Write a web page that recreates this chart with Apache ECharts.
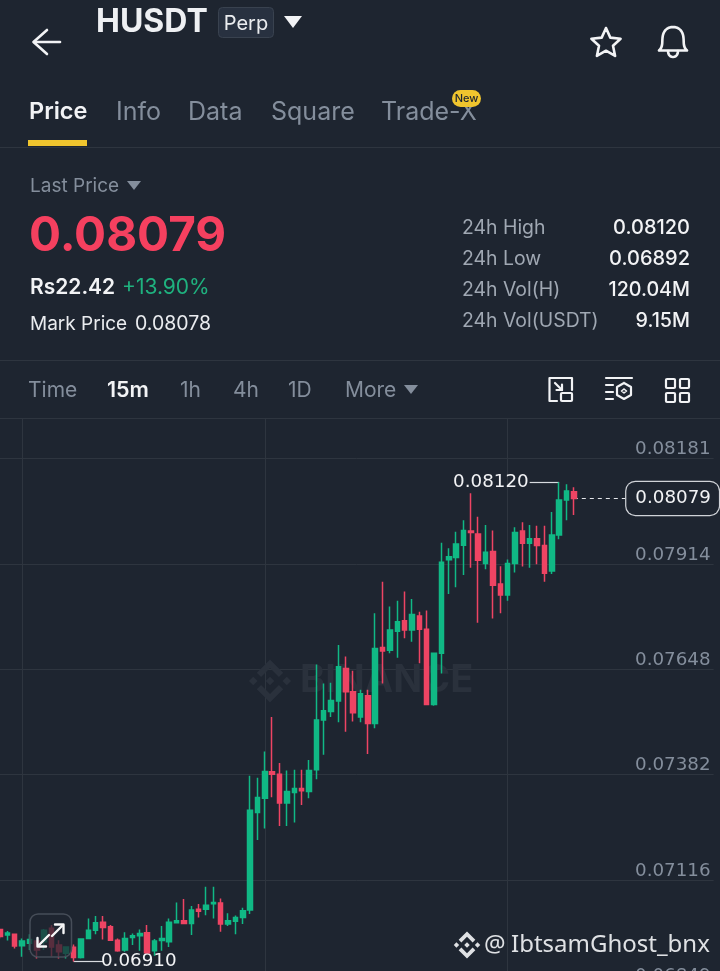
<!DOCTYPE html>
<html><head><meta charset="utf-8">
<style>html,body{margin:0;padding:0;background:#1e2530;overflow:hidden;height:971px}#c{width:720px;height:1010px}</style>
<script src="https://cdn.jsdelivr.net/npm/echarts@6/dist/echarts.min.js"></script>
</head><body><div id="c"></div>
<script>
const opens=[.06991,.06977,.06979,.06950,.06956,.06962,.06960,.06994,.06952,.06931,
.06946,.06920,.06968,.06989,.07009,.06998,.06964,.06939,.06971,.06975,
.06983,.06937,.06963,.06960,.07008,.07013,.07006,.07042,.07042,.07056,
.07058,.07005,.07012,.07021,.07040,.07286,.07322,.07389,.07383,.07310,
.07337,.07347,.07339,.07394,.07520,.07541,.07568,.07650,.07591,.07527,
.07581,.07511,.07703,.07696,.07744,.07770,.07747,.07782,.07749,.07559,
.07688,.07924,.07930,.07961,.07997,.07989,.07915,.07945,.07863,.07835,
.07915,.07997,.07966,.07977,.07960,.07896,.07987,.08075,.08096];
const closes=[.06973,.06982,.06949,.06962,.06966,.06939,.06989,.06947,.06935,.06947,
.06920,.06967,.06989,.07008,.06996,.06964,.06937,.06968,.06975,.06981,
.06932,.06962,.06968,.07009,.07013,.07006,.07040,.07037,.07052,.07059,
.07005,.07013,.07021,.07038,.07292,.07324,.07390,.07383,.07310,.07339,
.07347,.07341,.07392,.07520,.07543,.07569,.07654,.07591,.07538,.07586,
.07511,.07700,.07694,.07747,.07768,.07747,.07786,.07749,.07559,.07688,
.07918,.07932,.07964,.07998,.07993,.07923,.07943,.07860,.07835,.07915,
.07993,.07966,.07977,.07960,.07890,.07987,.08075,.08098,.08079];
const lows=[.06968,.06963,.06943,.06922,.06939,.06918,.06939,.06922,.06918,.06918,
.06910,.06918,.06968,.06979,.06966,.06962,.06935,.06935,.06952,.06937,
.06931,.06925,.06937,.06947,.07008,.07006,.06977,.07021,.07027,.07019,
.06985,.07000,.06979,.07005,.07030,.07217,.07246,.07325,.07252,.07252,
.07261,.07305,.07322,.07370,.07432,.07527,.07514,.07490,.07516,.07514,
.07434,.07499,.07612,.07688,.07677,.07726,.07717,.07663,.07558,.07556,
.07637,.07838,.07855,.07886,.07904,.07765,.07900,.07776,.07789,.07821,
.07892,.07907,.07904,.07913,.07869,.07888,.07976,.08024,.08037];
const highs=[.06993,.06987,.06981,.06968,.06979,.06964,.06992,.07002,.06964,.06947,
.06953,.06967,.07019,.07025,.07025,.07002,.06968,.06984,.06981,.06991,
.07002,.06967,.07000,.07019,.07059,.07068,.07050,.07055,.07099,.07099,
.07069,.07032,.07026,.07046,.07379,.07374,.07440,.07527,.07411,.07392,
.07394,.07394,.07419,.07660,.07612,.07614,.07709,.07680,.07644,.07596,
.07596,.07789,.07869,.07806,.07821,.07844,.07825,.07793,.07796,.07688,
.07967,.07953,.07995,.08024,.08092,.08033,.08012,.07998,.07908,.07925,
.08006,.08019,.08012,.08010,.08010,.08045,.08120,.08115,.08107];
const priceTicks=[0.08181,0.07914,0.07648,0.07382,0.07116,0.06849];
const timeGridSlots=[3,36,69];
const slotCount=98;
const categories=Array.from({length:slotCount},(_,i)=>'c'+i);
const lastPrice=0.08079, highPrice=0.08120, lowPrice=0.06910;

const FONT='Inter', AXFONT='DejaVu Sans';
const GRAY='#848e9c', WHITE='#eaecef', BG='#1e2530', GREEN='#10b985', RED='#ee4463', YEL='#f0c52e', LINE='#2e353f';
const T=(text,x,y,size,fill,weight,align,z)=>({type:'text',z:z||50,silent:true,style:{text,x,y,fontSize:size,fill,fontFamily:FONT,fontWeight:weight||400,textAlign:align||'left',textVerticalAlign:'middle'}});
const hl=(y)=>({type:'rect',z:5,silent:true,shape:{x:0,y:y,width:720,height:1},style:{fill:LINE}});
const tri=(x1,x2,y1,y2,fill)=>({type:'polygon',z:50,silent:true,shape:{points:[[x1,y1],[x2,y1],[(x1+x2)/2,y2]]},style:{fill}});
function outline(d){
  const toks=d.match(/[MLHVCZ]|-?[\d.]+/g), lines=[]; let cur=null,i=0,cmd='',x=0,y=0;
  const num=()=>parseFloat(toks[i++]);
  while(i<toks.length){
    if(/[MLHVCZ]/.test(toks[i])) cmd=toks[i++];
    if(cmd==='M'){x=num();y=num();cur=[[x,y]];lines.push(cur);cmd='L';}
    else if(cmd==='L'){x=num();y=num();cur.push([x,y]);}
    else if(cmd==='H'){x=num();cur.push([x,y]);}
    else if(cmd==='V'){y=num();cur.push([x,y]);}
    else if(cmd==='C'){const a=num(),b=num(),c=num(),e=num(),f=num(),g=num();
      for(let k=1;k<=10;k++){const t=k/10,u=1-t;
        cur.push([u*u*u*x+3*u*u*t*a+3*u*t*t*c+t*t*t*f,u*u*u*y+3*u*u*t*b+3*u*t*t*e+t*t*t*g]);}
      x=f;y=g;}
    else if(cmd==='Z'){cur.push(cur[0].slice());x=cur[0][0];y=cur[0][1];cmd='';}
  }
  return lines;
}
const stroke=(d,w,col,z)=>outline(d).map(pts=>({type:'polyline',z:z||50,silent:true,shape:{points:pts},style:{fill:'none',stroke:col||'#f2f3f5',lineWidth:w||2.4,lineCap:'round',lineJoin:'round'}}));
const box=(x,y,w,h,r,col,lw,z)=>({type:'rect',z:z||50,silent:true,shape:{x,y,width:w,height:h,r},style:{fill:'none',stroke:col||'#f2f3f5',lineWidth:lw||2.2}});
function logo(cx,cy,s,fill,z){
  const p=(pts)=>({type:'polygon',z,silent:true,shape:{points:pts.map(q=>[cx+q[0]*s,cy+q[1]*s])},style:{fill}});
  const d=(x,y,r)=>p([[x,y-r],[x+r,y],[x,y+r],[x-r,y]]);
  return [d(0,0,3.2),d(-12.4,0,3.2),d(12.4,0,3.2),
    p([[0,-16],[9.8,-6.2],[6.6,-3],[0,-9.6],[-6.6,-3],[-9.8,-6.2]]),
    p([[0,16],[9.8,6.2],[6.6,3],[0,9.6],[-6.6,3],[-9.8,6.2]])];
}
const graphics=[
  hl(147),hl(360),hl(418),
  ...stroke('M60 42H34M47 30L33.5 42L47 54',2.6),
  T('HUSDT',96,22,32,'#eef0f3',700),
  {type:'rect',z:49,silent:true,shape:{x:218.5,y:7.5,width:55,height:30,r:4},style:{fill:'#283140',stroke:'#39424f',lineWidth:1}},
  T('Perp',246,24,20,WHITE,400,'center'),
  tri(284,302,16,28,'#f2f3f5'),
  ...stroke('M606 28L610.3 37.6L620.6 38.7L613 45.7L615.1 55.9L606 50.7L596.9 55.9L599 45.7L591.4 38.7L601.7 37.6Z',2.6),
  ...stroke('M659 50.5C663 47 662 43 662.5 38C663 31 667 27 673 27C679 27 683 31 683.5 38C684 43 683 47 687 50.5ZM668 51C668 59 678 59 678 51',2.6),
  T('Price',29,112,23.5,'#f2f3f5',600),
  T('Info',116,112,25,GRAY),T('Data',188,112,25,GRAY),T('Square',271,112,25,GRAY),T('Trade-X',381,112,25,GRAY),
  {type:'rect',z:51,silent:true,shape:{x:452,y:90,width:29,height:17,r:8.5},style:{fill:YEL}},
  T('New',466.5,98.5,11,'#1e2530',500,'center',52),
  {type:'rect',z:50,silent:true,shape:{x:28,y:140,width:59,height:6},style:{fill:YEL}},
  T('Last Price',30,186,19,GRAY),
  tri(127,141,181,190,GRAY),
  T('0.08079',29,236.5,47.5,'#f5405f',700),
  T('Rs22.42',30,288,21,'#f2f3f5',600),
  T('+13.90%',122,288,21,'#1fb27f',400),
  T('Mark Price',30,324,19,WHITE),T('0.08078',135,324,19.5,WHITE),
  T('24h High',462,228,19.4,'#a0a8b3'),T('24h Low',462,259,19.4,'#a0a8b3'),T('24h Vol(H)',462,290,19.4,'#a0a8b3'),T('24h Vol(USDT)',462,321,19.4,'#a0a8b3'),
  T('0.08120',690,228,20,'#f2f3f5',500,'right'),T('0.06892',690,259,20,'#f2f3f5',500,'right'),T('120.04M',690,290,19.7,'#f2f3f5',500,'right'),T('9.15M',690,321,19.7,'#f2f3f5',500,'right'),
  T('Time',28,391,21,GRAY),T('15m',107,391,21.5,'#f2f3f5',600),T('1h',180,391,21,GRAY),T('4h',233,391,21,GRAY),T('1D',288,391,21,GRAY),T('More',345,391,21,GRAY),
  tri(404,418,385,394,GRAY),
  ...stroke('M572 390V378H549.5V401H557M555 383L562 390M562 384.5V390H556.5',2.2),
  box(561,393,11,8,1,null,2.2),
  ...stroke('M606 378H632M606 385H613M606 392H613M606 399H613',2.2),
  ...stroke('M624 383L631 387V395L624 399L617 395V387Z',2.2),
  ...stroke('M624 389L626.5 391L624 393L621.5 391Z',1.6),
  box(666,379,9,9,1,null,2.2),box(680,379,9,9,1,null,2.2),box(666,393,9,9,1,null,2.2),box(680,393,9,9,1,null,2.2),
  ...logo(270,681,1.35,'#2a313c',1),
  {type:'text',z:1,silent:true,style:{text:'BINANCE',x:300,y:681,fontSize:38,fontWeight:700,fontFamily:FONT,fill:'#2a313c',textVerticalAlign:'middle'}},
  {type:'rect',z:60,silent:true,shape:{x:30,y:914,width:41.5,height:43,r:8},style:{fill:'rgba(30,37,48,0.72)',stroke:'#464d58',lineWidth:1.5}},
  ...stroke('M52 936L62 926M55 924.5H63.5V933M49 935L39 945M37.5 938V946.5H46',2.4,'#f5f6f7',61),
  ...logo(467,945,0.85,'#dfe1e4',62),
  {type:'text',z:62,silent:true,style:{text:'@',x:484,y:945,fontSize:24,fontFamily:'Noto Sans',fill:'#dfe1e4',textVerticalAlign:'middle'}},
  {type:'text',z:62,silent:true,style:{text:'IbtsamGhost_bnx',x:511,y:945,fontSize:24,fontFamily:'Noto Sans',fill:'#dfe1e4',textVerticalAlign:'middle'}}
];
const annot=(a,b,style,label)=>[{coord:a,lineStyle:style,label},{coord:b,lineStyle:style,label}];
const chart=echarts.init(document.getElementById('c'));
chart.setOption({
  backgroundColor:BG,animation:false,
  grid:{left:-2.8,top:418,width:716.4,height:582,containLabel:false},
  xAxis:{type:'category',data:categories,boundaryGap:false,
    axisLine:{show:false},axisLabel:{show:false},
    axisTick:{show:false,interval:0},
    splitLine:{show:true,interval:(i)=>timeGridSlots.includes(i),lineStyle:{color:LINE,width:1}}},
  yAxis:{type:'value',position:'right',min:0.06813,max:0.08282,scale:true,
    axisLine:{show:false},
    axisTick:{show:false,customValues:priceTicks},
    splitLine:{show:true,lineStyle:{color:LINE,width:1}},
    axisLabel:{inside:true,margin:3,color:GRAY,fontSize:18.3,fontFamily:AXFONT,verticalAlign:'bottom',align:'right',
      customValues:priceTicks,formatter:(v)=>v.toFixed(5),showMinLabel:true,showMaxLabel:true}},
  series:[{type:'candlestick',barWidth:5,z:10,
    data:opens.map((o,i)=>[o,closes[i],lows[i],highs[i]]),
    itemStyle:{color:GREEN,color0:RED,borderColor:GREEN,borderColor0:RED,borderWidth:1.5},
    markLine:{silent:true,symbol:'none',precision:5,animation:false,
      data:[
        annot([76,highPrice],[72,highPrice],{color:'#d8dbe0',width:1.2,type:'solid'},
          {show:true,position:'end',formatter:highPrice.toFixed(5),color:'#f2f3f5',fontSize:18.3,fontFamily:AXFONT,distance:1}),
        annot([10,lowPrice],[14,lowPrice],{color:'#d8dbe0',width:1.2,type:'solid'},
          {show:true,position:'end',formatter:lowPrice.toFixed(5),color:'#f2f3f5',fontSize:18.3,fontFamily:AXFONT,distance:-2}),
        annot([78,lastPrice],[85,lastPrice],{color:'#e4e6ea',width:1.2,type:[4,4]},
          {show:true,position:'end',formatter:lastPrice.toFixed(5),color:'#f2f3f5',fontSize:18.3,fontFamily:AXFONT,distance:1,
           backgroundColor:BG,borderColor:'#d0d3d8',borderWidth:1.2,borderRadius:9,padding:[8,8,7,9]})
      ]}
  }],
  graphic:{elements:graphics}
});
</script></body></html>
